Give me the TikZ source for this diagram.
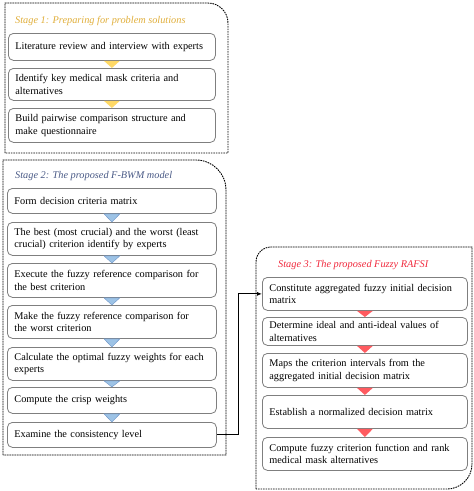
\documentclass[tikz,border=0pt]{standalone}
\usepackage{fontspec}
\setmainfont{Liberation Serif}
\definecolor{goldt}{HTML}{E0AE3A}
\definecolor{bluet}{HTML}{4A5A86}
\definecolor{redt}{HTML}{F0283C}
\definecolor{triy}{HTML}{FFD966}
\definecolor{trib}{HTML}{9DC3E6}
\definecolor{tribe}{HTML}{6E95C8}
\definecolor{trir}{HTML}{FF5B60}
\definecolor{boxe}{HTML}{7F7F7F}
\begin{document}
\begin{tikzpicture}[x=1pt,y=1pt,
  stagebox/.style={draw=black,line width=0.9pt,dash pattern=on 1.6pt off 0.9pt},
  procbox/.style={draw=boxe,line width=0.8pt,fill=white,rounded corners=5pt,anchor=north west,
    inner xsep=7pt,inner ysep=2pt,align=left,font=\fontsize{10.3}{12.4}\selectfont},
  ttl/.style={anchor=west,inner sep=0pt,font=\fontsize{10.3}{12}\selectfont\itshape},
  conn/.style={draw=black,line width=0.9pt,-{Latex[length=5pt,width=4pt]}}]
\usetikzlibrary{arrows.meta}
\useasboundingbox (0,0) rectangle (474,-491);
% containers
\draw[stagebox] (5,-153) -- (5,-3) -- (208,-3) arc[start angle=90,end angle=0,radius=20] -- (228,-153) -- cycle;
\draw[stagebox] (3,-455) -- (3,-160) -- (196,-160) arc[start angle=90,end angle=0,radius=30] -- (226,-455) -- cycle;
\draw[stagebox] (256,-489) -- (256,-262) arc[start angle=180,end angle=90,radius=15] -- (472,-247) -- (472,-464) arc[start angle=0,end angle=-90,radius=25] -- cycle;
% titles
\node[ttl,text=goldt] (t1) at (15,-21) {Stage 1: Preparing for problem solutions};
\node[ttl,text=bluet] (t2) at (15,-176) {Stage 2: The proposed F-BWM model};
\node[ttl,text=redt] (t3) at (278,-265) {Stage 3: The proposed Fuzzy RAFSI};
% stage 1 boxes
\begin{scope}[every node/.style={procbox,text width=193pt}]
\node[minimum height=27pt] (s1a) at (8,-33) {Literature review and interview with experts};
\node[minimum height=32pt] (s1b) at (8,-68) {Identify key medical mask criteria and\\alternatives};
\node[minimum height=34pt] (s1c) at (8,-108) {Build pairwise comparison structure and\\make questionnaire};
\end{scope}
% stage 2 boxes
\begin{scope}[every node/.style={procbox,text width=195pt}]
\node[minimum height=25pt] (s2a) at (7,-188) {Form decision criteria matrix};
\node[minimum height=33pt] (s2b) at (7,-222) {The best (most crucial) and the worst (least\\crucial) criterion identify by experts};
\node[minimum height=34pt] (s2c) at (7,-263) {Execute the fuzzy reference comparison for\\the best criterion};
\node[minimum height=33pt] (s2d) at (7,-305) {Make the fuzzy reference comparison for\\the worst criterion};
\node[minimum height=33pt] (s2e) at (7,-347) {Calculate the optimal fuzzy weights for each\\experts};
\node[minimum height=26pt] (s2f) at (7,-387) {Compute the crisp weights};
\node[minimum height=25pt] (s2g) at (7,-422) {Examine the consistency level};
\end{scope}
% stage 3 boxes
\begin{scope}[every node/.style={procbox,text width=191pt}]
\node[minimum height=33pt] (s3a) at (262,-277) {Constitute aggregated fuzzy initial decision\\matrix};
\node[minimum height=28pt] (s3b) at (262,-317) {Determine ideal and anti-ideal values of\\alternatives};
\node[minimum height=34pt] (s3c) at (262,-353) {Maps the criterion intervals from the\\aggregated initial decision matrix};
\node[minimum height=33pt] (s3d) at (262,-395) {Establish a normalized decision matrix};
\node[minimum height=33pt] (s3e) at (262,-437) {Compute fuzzy criterion function and rank\\medical mask alternatives};
\end{scope}
% triangles
\foreach \u/\l in {s1a/s1b,s1b/s1c}{
  \fill[triy] ([xshift=-8pt]\u.south) -- ([xshift=8pt]\u.south) -- (\l.north) -- cycle;}
\foreach \u/\l in {s2a/s2b,s2b/s2c,s2c/s2d,s2d/s2e,s2e/s2f,s2f/s2g}{
  \filldraw[fill=trib,draw=tribe,line width=0.4pt] ([xshift=-8pt]\u.south) -- ([xshift=8pt]\u.south) -- (\l.north) -- cycle;}
\foreach \u/\l in {s3a/s3b,s3b/s3c,s3c/s3d,s3d/s3e}{
  \fill[trir] ([xshift=-8pt]\u.south) -- ([xshift=8pt]\u.south) -- (\l.north) -- cycle;}
% connector
\draw[conn] (s2g.east) -- ++(22,0) |- (s3a.west);
\end{tikzpicture}
\end{document}
